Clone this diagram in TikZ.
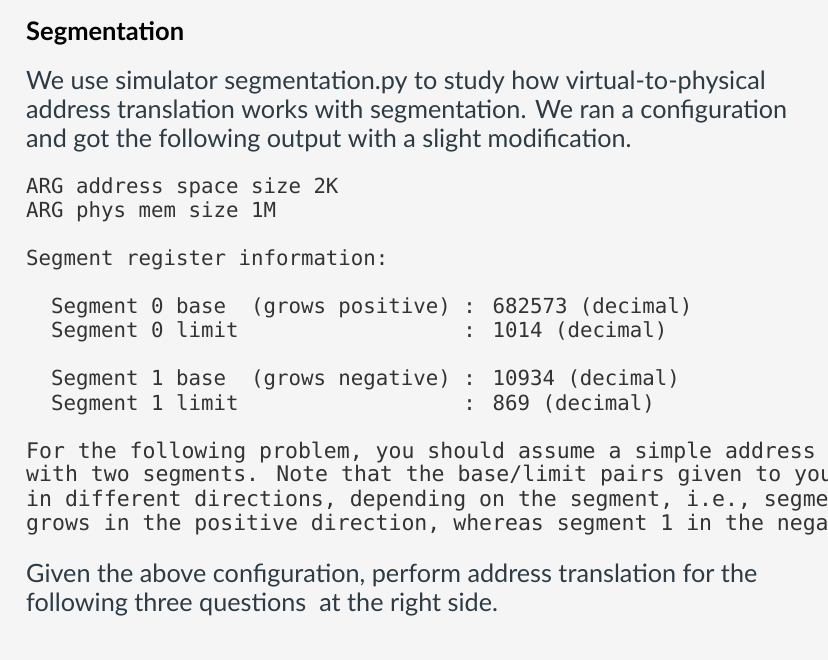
\documentclass[tikz,border=0pt]{standalone}
\usepackage{fontspec}
\setmainfont{Lato}
\newfontfamily\codefont{DejaVu Sans Mono}
\definecolor{bg}{HTML}{F5F5F5}
\definecolor{txt}{HTML}{2D3B45}
\definecolor{codec}{HTML}{333333}
\tikzset{
  prose/.style={anchor=base west,inner sep=0pt,text=txt,font=\fontsize{25.2}{28}\selectfont},
  title/.style={anchor=base west,inner sep=0pt,text=black,font=\fontsize{25.5}{28}\selectfont\bfseries},
  code/.style={anchor=base west,inner sep=0pt,text=codec,font=\codefont\fontsize{20.75}{24}\selectfont},
  codeb/.style={anchor=base west,inner sep=0pt,text=codec,font=\codefont\fontsize{21.5}{24}\selectfont}
}
\begin{document}
\begin{tikzpicture}[x=1pt,y=-1pt]
\useasboundingbox (0,0) rectangle (828,660);
\fill[bg] (0,0) rectangle (828,660);
\clip (0,0) rectangle (828,660);
\node[title] (t) at (26,41) {Segmentation};
\node[prose] (p1) at (26,90) {We use simulator segmentation.py to study how virtual-to-physical};
\node[prose] (p2) at (26,119) {address translation works with segmentation. We ran a configuration};
\node[prose] (p3) at (26,148) {and got the following output with a slight modification.};
\node[code] (c1) at (26,194) {ARG address space size 2K};
\node[code] (c2) at (26,218) {ARG phys mem size 1M};
\node[code] (c3) at (26,266) {Segment register information:};
\node[code] (c4) at (26,314) {\ \ Segment 0 base\ \ (grows positive) : 682573 (decimal)};
\node[code] (c5) at (26,338) {\ \ Segment 0 limit\ \ \ \ \ \ \ \ \ \ \ \ \ \ \ \ \ \ : 1014 (decimal)};
\node[code] (c6) at (26,386) {\ \ Segment 1 base\ \ (grows negative) : 10934 (decimal)};
\node[code] (c7) at (26,410) {\ \ Segment 1 limit\ \ \ \ \ \ \ \ \ \ \ \ \ \ \ \ \ \ : 869 (decimal)};
\node[codeb] (c8) at (26,458) {For the following problem, you should assume a simple address space};
\node[codeb] (c9) at (26,482) {with two segments. Note that the base/limit pairs given to you grow};
\node[codeb] (c10) at (26,506) {in different directions, depending on the segment, i.e., segment 0};
\node[codeb] (c11) at (26,530) {grows in the positive direction, whereas segment 1 in the negative.};
\node[prose] (p4) at (26,582) {Given the above configuration, perform address translation for the};
\node[prose] (p5) at (26,611) {following three questions\ \ at the right side.};
\end{tikzpicture}
\end{document}
